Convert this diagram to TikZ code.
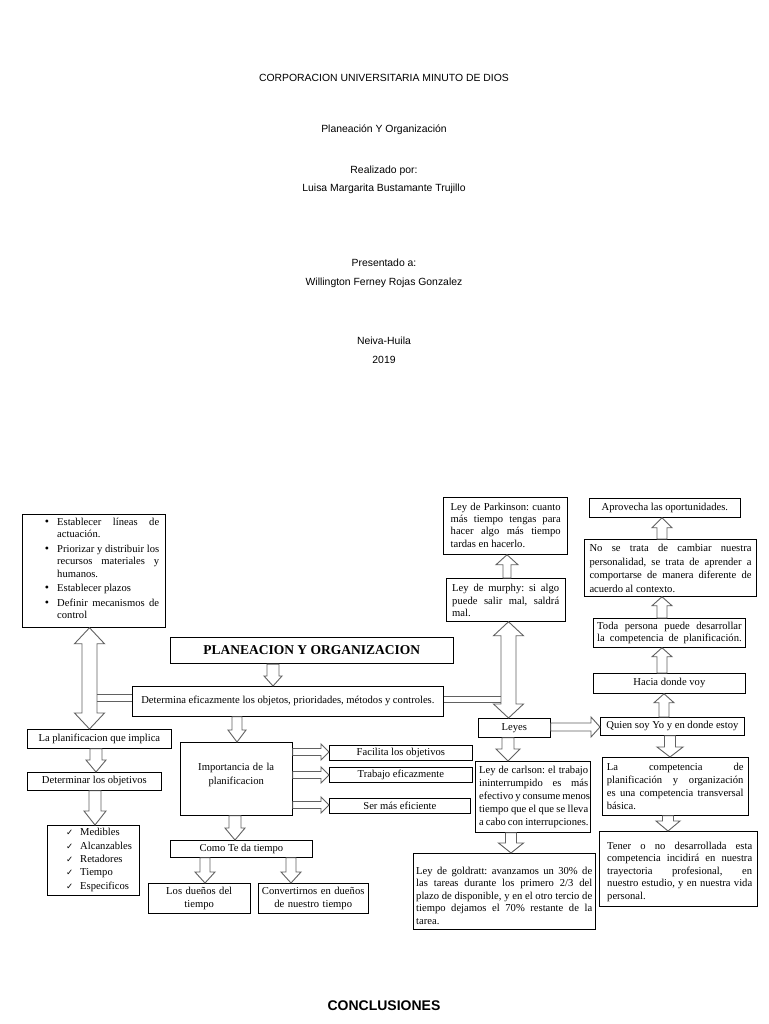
\documentclass[tikz,border=0pt]{standalone}
\usepackage{fontspec}
\setmainfont{Liberation Serif}
\newfontfamily\arialf{Liberation Sans}
\newfontfamily\djvf{DejaVu Sans}
\usetikzlibrary{calc}
\newcommand{\ft}{\fontsize{10.6}{12.8}\selectfont\frenchspacing\hyphenpenalty=10000 }
\newcommand{\hf}{\arialf\fontsize{10.4}{12}\selectfont}
\newcommand{\jln}[1]{\hbox to\hsize{\spaceskip=0.25em plus 1fil minus 0.06em\relax #1}}
\newcommand{\lln}[1]{\hbox to\hsize{\spaceskip=0.25em plus 0.05em minus 0.06em\relax #1\hfil}}
\newcommand{\cln}[1]{\hbox to\hsize{\hfil#1\hfil}}
\newcommand{\lnsblock}[2]{\vtop{\baselineskip=#1\relax#2}}
\newcommand{\bulmark}{\llap{{\fontsize{12}{12}\selectfont\textbullet}\hspace{8pt}}}
\newcommand{\chkmark}{\llap{{\djvf\fontsize{8.5}{9}\selectfont ✓}\hspace{7pt}}}
% single-line box: name, x1, y1, x2, y2, text
\newcommand{\sbx}[6]{\node[box, minimum width={#4-#2}, minimum height={#5-#3}] (#1) at (#2,#3) {#6};}
% text box: name, x1, y1, x2, y2, text x, first baseline y, text width, content
\newcommand{\tbx}[9]{\node[box, minimum width={#4-#2}, minimum height={#5-#3}] (#1) at (#2,#3) {};
  \node[txt, text width=#8, anchor=base west] at (#6,#7) {#9};}
% block arrow: from, to, shaft half width, head half width, head length
\newcommand{\blockarr}[5]{%
  \path (#1) coordinate (bs) (#2) coordinate (bt);
  \path ($(bt)!#5!(bs)$) coordinate (bm);
  \draw[arr] ($(bs)!#3!90:(bt)$) -- ($(bm)!#3!-90:(bs)$) -- ($(bm)!#4!-90:(bs)$) -- (bt)
     -- ($(bm)!#4!90:(bs)$) -- ($(bm)!#3!90:(bs)$) -- ($(bs)!#3!-90:(bt)$) -- cycle;}
\newcommand{\dblarr}[5]{%
  \path (#1) coordinate (bs) (#2) coordinate (bt);
  \path ($(bs)!#5!(bt)$) coordinate (bm1) ($(bt)!#5!(bs)$) coordinate (bm2);
  \draw[arr] (bs) -- ($(bm1)!#4!90:(bt)$) -- ($(bm1)!#3!90:(bt)$) -- ($(bm2)!#3!-90:(bs)$)
     -- ($(bm2)!#4!-90:(bs)$) -- (bt) -- ($(bm2)!#4!90:(bs)$) -- ($(bm2)!#3!90:(bs)$)
     -- ($(bm1)!#3!-90:(bt)$) -- ($(bm1)!#4!-90:(bt)$) -- cycle;}
\begin{document}
\begin{tikzpicture}[x=1pt,y=-1pt,
  box/.style={draw=black, fill=white, line width=0.75pt, anchor=north west, inner sep=0pt, font=\ft, align=center},
  txt/.style={inner sep=0pt, font=\ft},
  hdr/.style={anchor=base, inner sep=0pt, font=\hf},
  arr/.style={draw=black!62, fill=white, line width=0.9pt, line join=miter},
  dl/.style={draw=black!62, line width=0.9pt}]
\fill[white] (0,0) rectangle (768,1024);
\useasboundingbox (0,0) rectangle (768,1024);

% header
\node[hdr] (h1) at (384,81.7) {CORPORACION UNIVERSITARIA MINUTO DE DIOS};
\node[hdr] (h2) at (384,132.7) {Planeación Y Organización};
\node[hdr] (h3) at (384,173.7) {Realizado por:};
\node[hdr] (h4) at (384,191.7) {Luisa Margarita Bustamante Trujillo};
\node[hdr] (h5) at (384,266.7) {Presentado a:};
\node[hdr] (h6) at (384,285.7) {Willington Ferney Rojas Gonzalez};
\node[hdr] (h7) at (384,344.7) {Neiva-Huila};
\node[hdr] (h8) at (384,363.7) {2019};
\node[hdr, font=\arialf\fontsize{14}{16}\selectfont\bfseries] (concl) at (384,1010) {CONCLUSIONES};

% left column
\tbx{bul}{22}{514}{165}{627}{57}{525}{102pt}{\lnsblock{12.9pt}{%
  \jln{\bulmark Establecer líneas de}\lln{actuación.}\vskip1.2pt
  \jln{\bulmark Priorizar y distribuir los}\jln{recursos materiales y}\lln{humanos.}\vskip1.2pt
  \lln{\bulmark Establecer plazos}\vskip1.2pt
  \jln{\bulmark Definir mecanismos de}\lln{control}}}
\sbx{lpl}{27}{729}{171}{748}{La planificacion que implica}
\sbx{detobj}{27}{772}{161}{790}{Determinar los objetivos}
\tbx{chk}{47}{825}{139}{895}{80}{835.7}{58pt}{\lnsblock{13.33pt}{%
  \lln{\chkmark Medibles}\lln{\chkmark Alcanzables}\lln{\chkmark Retadores}\lln{\chkmark Tiempo}\lln{\chkmark Especificos}}}

% centre
\sbx{plan}{170}{636.7}{452.7}{663.3}{\fontsize{13.5}{15}\selectfont\bfseries PLANEACION Y ORGANIZACION}
\sbx{det}{132}{686}{443}{716}{Determina eficazmente los objetos, prioridades, métodos y controles.}
\tbx{imp}{180}{742}{292}{815}{180}{770.4}{112pt}{\lnsblock{13.7pt}{\cln{Importancia de la}\cln{planificacion}}}
\sbx{fac}{329}{745}{472}{760}{Facilita los objetivos}
\sbx{trab}{329}{767}{472}{782}{Trabajo eficazmente}
\sbx{ser}{329}{798}{470}{813}{Ser más eficiente}
\sbx{como}{170}{840}{312}{857}{Como Te da tiempo}
\tbx{duen}{148}{883}{250}{913}{148}{894}{102pt}{\lnsblock{13.4pt}{\cln{Los dueños del}\cln{tiempo}}}
\tbx{conv}{258}{883}{368}{913}{258}{894}{110pt}{\lnsblock{13.4pt}{\cln{Convertirnos en dueños}\cln{de nuestro tiempo}}}

% laws column
\tbx{park}{443}{497}{567}{554}{450.5}{510.5}{110pt}{\lnsblock{12.2pt}{%
  \jln{Ley de Parkinson: cuanto}\jln{más tiempo tengas para}\jln{hacer algo más tiempo}\lln{tardas en hacerlo.}}}
\tbx{murphy}{446}{578}{565}{621}{452}{591.5}{107pt}{\lnsblock{12.5pt}{%
  \jln{Ley de murphy: si algo}\jln{puede salir mal, saldrá}\lln{mal.}}}
\sbx{leyes}{478}{718}{550}{737}{Leyes}
\tbx{carl}{474.5}{761}{590}{832}{479}{773.4}{109pt}{\lnsblock{13pt}{%
  \jln{Ley de carlson: el trabajo}\jln{ininterrumpido es más}\jln{efectivo y consume menos}\jln{tiempo que el que se lleva}\lln{a cabo con interrupciones.}}}
\tbx{gold}{412.7}{853}{595}{929}{416}{874}{176pt}{\lnsblock{12.5pt}{%
  \jln{Ley de goldratt: avanzamos un 30\% de}\jln{las tareas durante los primero 2/3 del}\jln{plazo de disponible, y en el otro tercio de}\jln{tiempo dejamos el 70\% restante de la}\lln{tarea.}}}

% right column
\sbx{apro}{589}{498}{740}{517}{Aprovecha las oportunidades.}
\tbx{nose}{584}{539}{756}{596}{589.3}{551.7}{162pt}{\lnsblock{13.6pt}{%
  \jln{No se trata de cambiar nuestra}\jln{personalidad, se trata de aprender a}\jln{comportarse de manera diferente de}\lln{acuerdo al contexto.}}}
\tbx{toda}{593}{618}{745}{647}{597}{629}{144.5pt}{\lnsblock{12.7pt}{%
  \jln{Toda persona puede desarrollar}\jln{la competencia de planificación.}}}
\sbx{hacia}{593}{673}{745}{693}{Hacia donde voy}
\sbx{quien}{600}{717}{744}{735}{Quien soy Yo y en donde estoy}
\tbx{lacomp}{602}{757}{748}{815}{606.7}{770.7}{136.6pt}{\lnsblock{12.9pt}{%
  \jln{La competencia de}\jln{planificación y organización}\jln{es una competencia transversal}\lln{básica.}}}
\tbx{tener}{599}{831}{757}{906}{607}{849}{145pt}{\lnsblock{12.5pt}{%
  \jln{Tener o no desarrollada esta}\jln{competencia incidirá en nuestra}\jln{trayectoria profesional, en}\jln{nuestro estudio, y en nuestra vida}\lln{personal.}}}

% arrows
\blockarr{273,0 |- plan.south}{273,0 |- det.north}{6pt}{9pt}{10pt}
\blockarr{237,0 |- det.south}{237,0 |- imp.north}{5pt}{9pt}{12pt}
\blockarr{96,0 |- lpl.south}{96,0 |- detobj.north}{6pt}{10pt}{12pt}
\blockarr{95,0 |- detobj.south}{95,0 |- chk.north}{6pt}{11pt}{14pt}
\blockarr{imp.east |- 0,752}{fac.west |- 0,752}{3.5pt}{8pt}{8pt}
\blockarr{imp.east |- 0,775}{trab.west |- 0,775}{3.5pt}{8pt}{8pt}
\blockarr{imp.east |- 0,805}{ser.west |- 0,805}{3.5pt}{8pt}{8pt}
\blockarr{235,0 |- imp.south}{235,0 |- como.north}{6pt}{10pt}{12pt}
\blockarr{205,0 |- como.south}{205,0 |- duen.north}{5pt}{10pt}{11pt}
\blockarr{291,0 |- como.south}{291,0 |- conv.north}{5pt}{10pt}{11pt}
\blockarr{507,0 |- murphy.north}{507,0 |- park.south}{4pt}{11pt}{10pt}
\dblarr{508.5,0 |- murphy.south}{508.5,0 |- leyes.north}{7.5pt}{15pt}{14pt}
\dblarr{89.5,0 |- bul.south}{89.5,0 |- lpl.north}{7.5pt}{15pt}{16pt}
\blockarr{508,0 |- leyes.south}{508,0 |- carl.north}{6pt}{12pt}{12pt}
\blockarr{511,0 |- carl.south}{511,0 |- gold.north}{5.5pt}{12.5pt}{10pt}
\blockarr{leyes.east |- 0,727}{quien.west |- 0,727}{4pt}{10pt}{9pt}
\blockarr{664,0 |- quien.north}{664,0 |- hacia.south}{5pt}{10pt}{9pt}
\blockarr{662,0 |- hacia.north}{662,0 |- toda.south}{5pt}{10pt}{9pt}
\blockarr{662,0 |- toda.north}{662,0 |- nose.south}{5pt}{10pt}{9pt}
\blockarr{662,0 |- nose.north}{662,0 |- apro.south}{5pt}{10pt}{10pt}
\blockarr{670,0 |- quien.south}{670,0 |- lacomp.north}{5.5pt}{13pt}{10pt}
\blockarr{668,0 |- lacomp.south}{668,0 |- tener.north}{5.5pt}{12pt}{10pt}

% double-line links from "Determina" to the two big arrows
\coordinate (lsh) at (97,0);
\coordinate (rsh) at (501,0);
\draw[dl] (lsh |- 0,694) -- (det.west |- 0,694);
\draw[dl] (lsh |- 0,701.5) -- (det.west |- 0,701.5);
\draw[dl] (det.east |- 0,696) -- (rsh |- 0,696);
\draw[dl] (det.east |- 0,702) -- (rsh |- 0,702);
\end{tikzpicture}
\end{document}
